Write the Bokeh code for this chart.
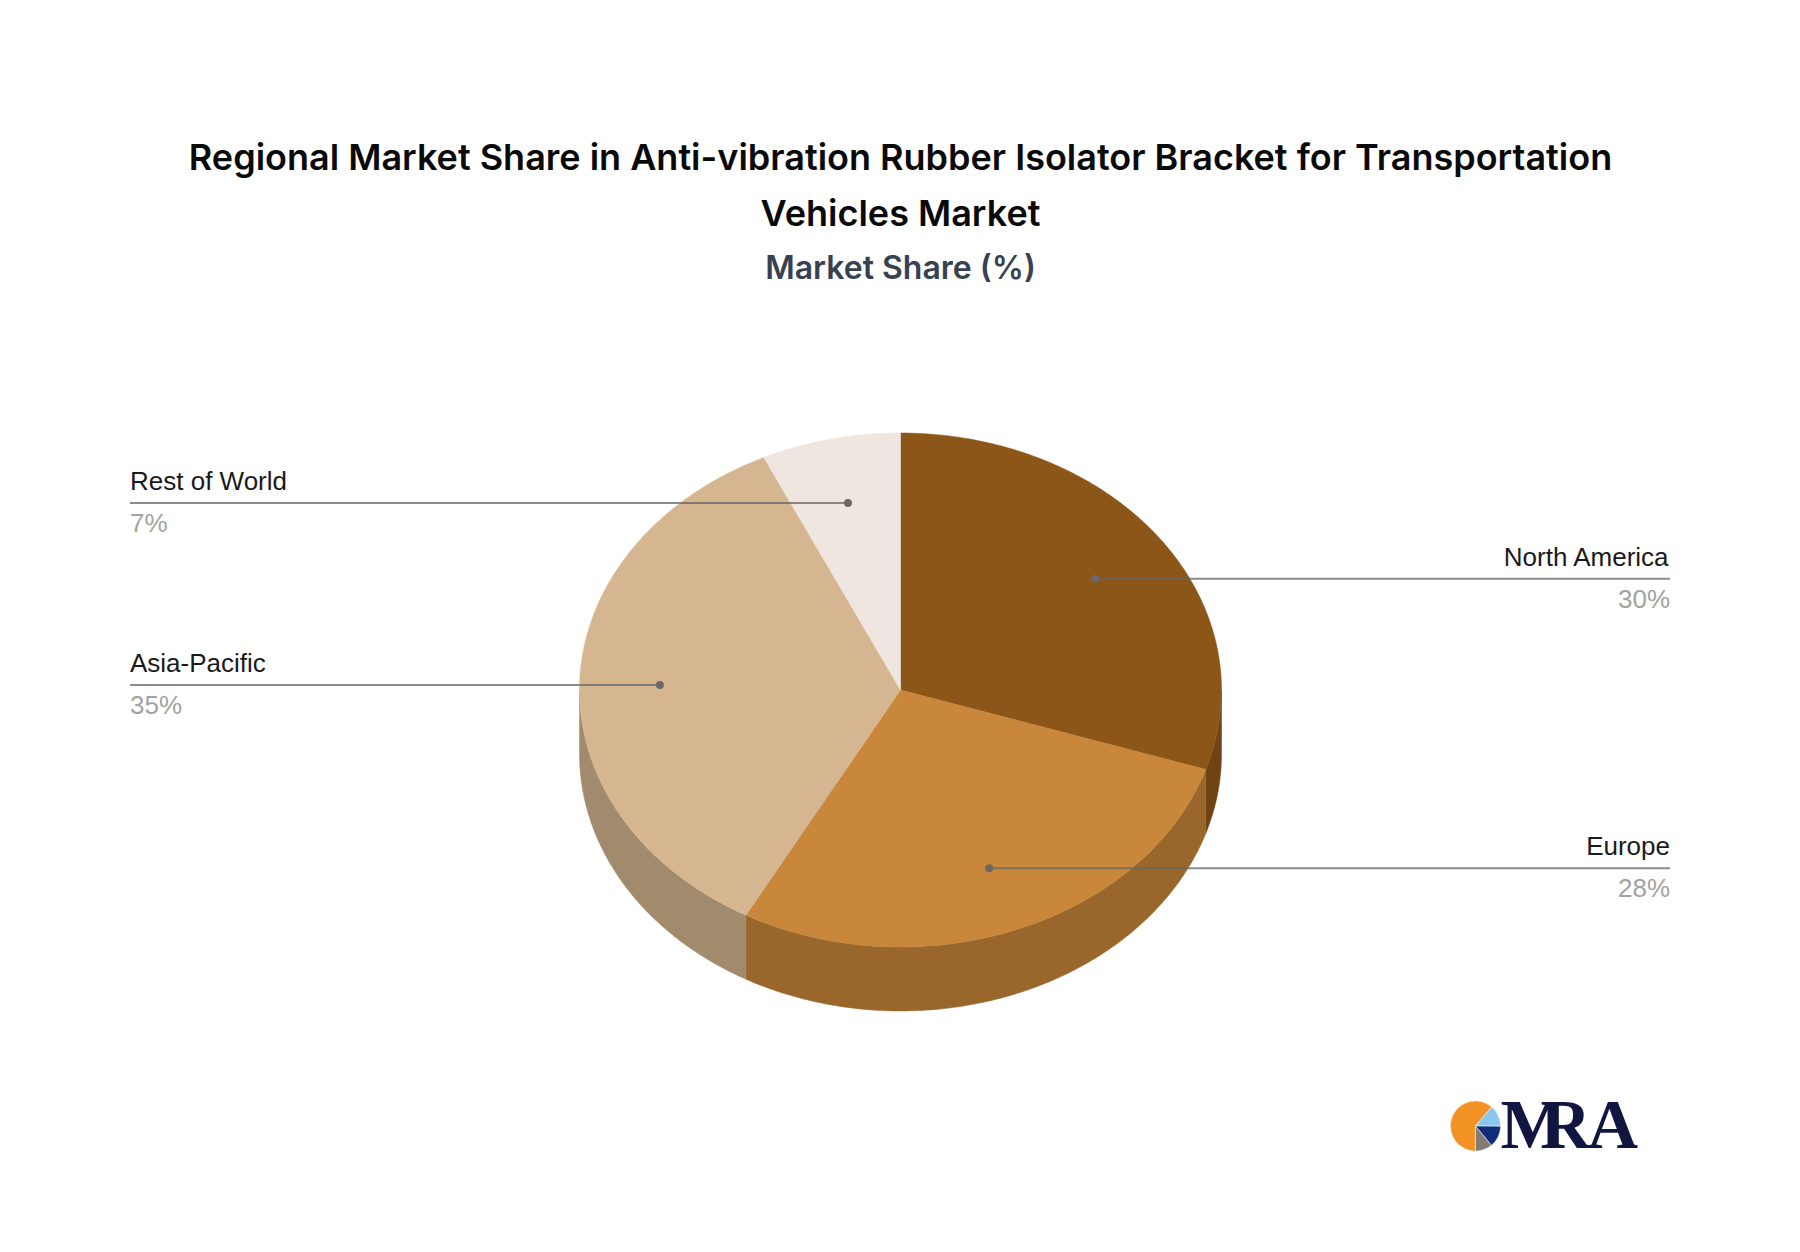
import math
from bokeh.plotting import figure
from bokeh.embed import file_html
from bokeh.resources import INLINE
from bokeh.core.properties import value
from bokeh.models import Range1d

regions = ["North America", "Europe", "Asia-Pacific", "Rest of World"]
shares = [30, 28, 35, 7]
pct_labels = ["30%", "28%", "35%", "7%"]
top_colors = ["#8C5618", "#C8873A", "#D6B690", "#EEE6DF"]
side_colors = ["#6F4412", "#99672C", "#A28A6D", "#BEB8B2"]
title_lines = ["Regional Market Share in Anti-vibration Rubber Isolator Bracket for Transportation", "Vehicles Market"]
subtitle = "Market Share (%)"
logo_shares = [14, 14, 11, 61]
logo_colors = ["#8CC8EE", "#0F2D7A", "#847C74", "#F39325"]
logo_letters = ["M", "R", "A"]

W, H = 1784, 1236
p = figure(width=W, height=H, output_backend="svg", toolbar_location=None,
           x_range=Range1d(0, W), y_range=Range1d(H, 0))
p.axis.visible = False
p.grid.visible = False
p.outline_line_color = None
p.min_border = 0
p.background_fill_color = "white"

CX, CY, RX, RY, DEPTH = 900.0, 689.5, 321.0, 257.0, 64.0
leader_nudge = [2.0, -1.0, 1.0, 1.0]


def arc(a0, a1, dy=0.0):
    n = max(2, int(abs(a1 - a0) * 2))
    out = []
    for i in range(n + 1):
        a = math.radians(a0 + (a1 - a0) * i / n)
        out.append((CX + RX * math.sin(a), CY - RY * math.cos(a) + dy))
    return out


# side walls
start = 0.0
for s, col in zip(shares, side_colors):
    end = start + s * 3.6
    a0, a1 = max(start, 90), min(end, 270)
    if a1 > a0:
        pts = arc(a0, a1) + arc(a1, a0, DEPTH)
        p.patch([q[0] for q in pts], [q[1] for q in pts], fill_color=col, line_color=col, line_width=0.5)
    start = end

# top faces
start = 0.0
for s, col in zip(shares, top_colors):
    end = start + s * 3.6
    pts = [(CX, CY)] + arc(start, end)
    p.patch([q[0] for q in pts], [q[1] for q in pts], fill_color=col, line_color=col, line_width=0.5)
    start = end

# leaders
LEFT_X, RIGHT_X = 129.5, 1669.5
start = 0.0
for name, pct, s, nudge in zip(regions, pct_labels, shares, leader_nudge):
    mid = start + s * 1.8
    a = math.radians(mid)
    x = CX + 0.75 * RX * math.sin(a)
    y = CY - 0.75 * RY * math.cos(a) + nudge
    right = mid < 180
    ex = RIGHT_X if right else LEFT_X
    p.line([x, ex], [y, y], line_color="#666666", line_alpha=0.75, line_width=2)
    p.scatter([x], [y], size=8, fill_color="#6c6864", line_color=None)
    align = "right" if right else "left"
    p.text([ex], [y - 7], text=[name], text_font=value("Liberation Sans"), text_font_size="26px",
           text_color="#1a1a1a", text_align=align, text_baseline="bottom")
    p.text([ex], [y + 5], text=[pct], text_font=value("Liberation Sans"), text_font_size="26px",
           text_color="#a3a39e", text_align=align, text_baseline="top")
    start += s * 3.6

# titles
for line, yy in zip(title_lines, [156, 212]):
    p.text([900], [yy], text=[line], text_font=value("Inter SemiBold"), text_font_size="36px",
           text_color="#0a0a0a", text_align="center", text_baseline="middle")
p.text([900], [266.5], text=[subtitle], text_font=value("Inter SemiBold"), text_font_size="32px",
       text_color="#374151", text_align="center", text_baseline="middle")

# logo
LX, LY, LR = 1475.0, 1125.5, 25.0
start = 40.0
for s, col in zip(logo_shares, logo_colors):
    end = start + s * 3.6
    n = max(2, int(s * 3.6))
    xs = [LX] + [LX + LR * math.sin(math.radians(start + (end - start) * i / n)) for i in range(n + 1)]
    ys = [LY] + [LY - LR * math.cos(math.radians(start + (end - start) * i / n)) for i in range(n + 1)]
    p.patch(xs, ys, fill_color=col, line_color="white", line_width=0.5)
    start = end
for ch, x in zip(logo_letters, [1500, 1540, 1587]):
    p.text([x], [1123.5], text=[ch], text_font=value("Liberation Serif"), text_font_style="bold", text_font_size="70px",
           text_color="#10163F", text_align="left", text_baseline="alphabetic")

open("out.html", "w").write(file_html(p, INLINE))
